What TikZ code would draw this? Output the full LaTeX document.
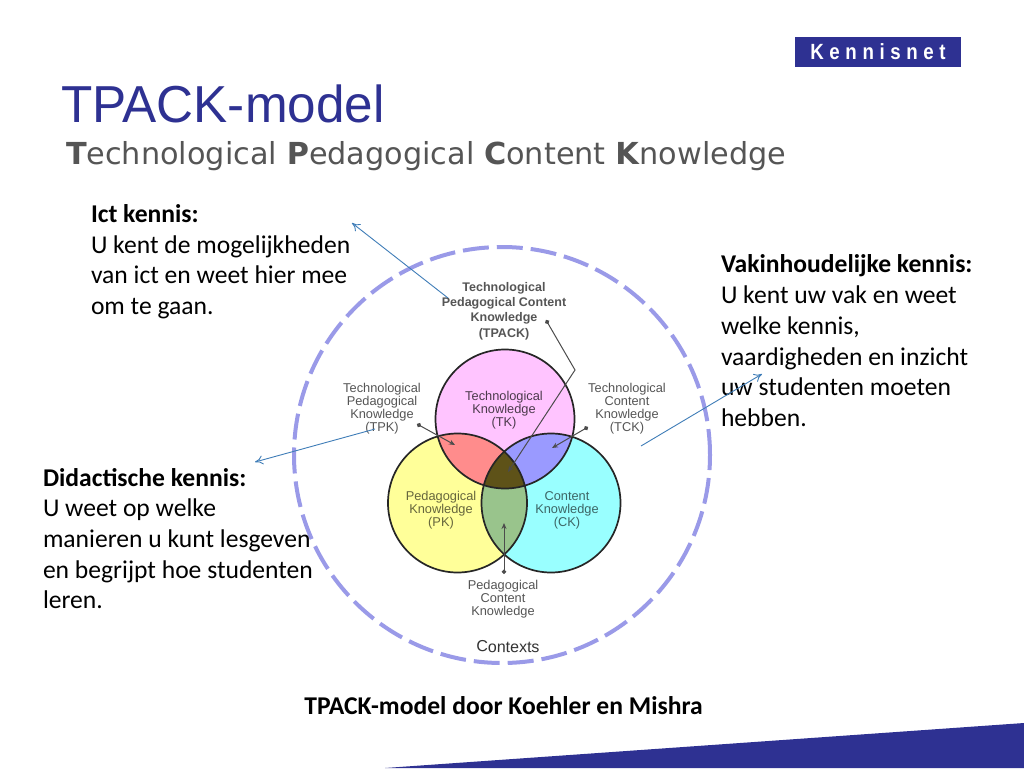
\documentclass[tikz,border=0pt]{standalone}
\usepackage{fontspec}
\setmainfont{Carlito}
\newfontfamily\titlefont{Liberation Sans}
\newfontfamily\subfont{DejaVu Sans}
\newfontfamily\logofont[LetterSpace=30]{Liberation Sans}
\usetikzlibrary{shapes,arrows.meta}
\definecolor{kblue}{HTML}{2E3192}
\definecolor{dashblue}{HTML}{9A9AE8}
\definecolor{linkblue}{HTML}{3F7DB8}
\definecolor{labelgray}{HTML}{555555}
\definecolor{tkpink}{HTML}{FFC4FF}
\definecolor{pkyellow}{HTML}{FFFF99}
\definecolor{ckcyan}{HTML}{99FFFF}
\definecolor{tpkred}{HTML}{FF8C8C}
\definecolor{tckblue}{HTML}{9A9AFF}
\definecolor{pckgreen}{HTML}{99C48C}
\definecolor{tpackolive}{HTML}{5E5218}

\begin{document}
\begin{tikzpicture}[x=1pt,y=-1pt]
    \tikzstyle{every node}=[inner sep=0pt,outer sep=0pt]
    \tikzstyle{venn}=[circle,minimum size=139pt]
    \tikzstyle{vennlabel}=[align=center,font=\titlefont\fontsize{12.8}{12.9}\selectfont,text=labelgray]
    \tikzstyle{bodytext}=[anchor=north west,align=left,font=\fontsize{25.6}{30.7}\selectfont]
    \tikzstyle{callout}=[draw=black!70,line width=1pt,{Circle[length=4.5pt]}-{Stealth[length=6pt,width=5pt]}]
    \tikzstyle{bluelink}=[draw=linkblue,line width=0.9pt,-{To[length=8pt,width=9pt]}]
    \path[fill=white,use as bounding box] (0,0) rectangle (1024,768);
    % header and footer
    \node[fill=kblue,minimum width=166pt,minimum height=30pt] (logo) at (878,52)
      {\scalebox{0.85}[1]{\logofont\bfseries\fontsize{22}{22}\selectfont\textcolor{white}{Kennisnet}}};
    \node[anchor=west,text=kblue,font=\titlefont\fontsize{52}{52}\selectfont,xscale=0.985] (title) at (61,104) {TPACK-model};
    \node[anchor=west,text=labelgray,font=\subfont\fontsize{30.3}{30.3}\selectfont] (subtitle) at (66,156)
      {\textbf{T}echnological \textbf{P}edagogical \textbf{C}ontent \textbf{K}nowledge};
    \fill[kblue] (385,768) -- (1024,723) -- (1024,768) -- cycle;
    % the model
    \node[circle,draw=dashblue,line width=4pt,dash pattern=on 26pt off 8pt,minimum size=416pt] (contexts) at (502,455) {};
    \node[venn,fill=tkpink] (tk) at (505,419) {};
    \node[venn,fill=pkyellow] (pk) at (457.5,503) {};
    \node[venn,fill=ckcyan] (ck) at (551,503) {};
    \begin{scope}
      \clip (tk.center) circle (69.5pt);
      \fill[tpkred] (pk.center) circle (69.5pt);
      \fill[tckblue] (ck.center) circle (69.5pt);
    \end{scope}
    \begin{scope}
      \clip (pk.center) circle (69.5pt);
      \fill[pckgreen] (ck.center) circle (69.5pt);
      \clip (ck.center) circle (69.5pt);
      \fill[tpackolive] (tk.center) circle (69.5pt);
    \end{scope}
    \foreach \c in {tk,pk,ck}
      \draw[line width=1.7pt,black!85] (\c.center) circle (69.5pt);
    % labels
    \node[vennlabel,font=\titlefont\bfseries\fontsize{12.5}{15.3}\selectfont] (tpacklabel) at (504,311)
      {Technological\\Pedagogical Content\\Knowledge\\(TPACK)};
    \node[vennlabel] (tpklabel) at (382,409) {Technological\\Pedagogical\\Knowledge\\(TPK)};
    \node[vennlabel] (tcklabel) at (627,409) {Technological\\Content\\Knowledge\\(TCK)};
    \node[vennlabel,text=black!40!tkpink!50!black] (tklabel) at (504,410) {Technological\\Knowledge\\(TK)};
    \node[vennlabel,text=pkyellow!40!black] (pklabel) at (441,510) {Pedagogical\\Knowledge\\(PK)};
    \node[vennlabel,text=ckcyan!40!black] (cklabel) at (567,510) {Content\\Knowledge\\(CK)};
    \node[vennlabel] (pcklabel) at (503,599) {Pedagogical\\Content\\Knowledge};
    \node[vennlabel,font=\titlefont\fontsize{16}{16}\selectfont,text=black!80,rotate=-1] (contextslabel) at (508,647) {Contexts};
    \coordinate (tpackdot) at (546,320);
    \coordinate (tpackbend) at (575,370);
    \coordinate (tpacktip) at (508,472);
    \coordinate (tpkdot) at (417,424);
    \coordinate (tpktip) at (455,445);
    \coordinate (tckdot) at (588,427);
    \coordinate (tcktip) at (552,448);
    \coordinate (pckdot) at (504,574);
    \coordinate (pcktip) at (504,523);
    \draw[callout] (tpackdot) -- (tpackbend) -- (tpacktip);
    \draw[callout] (tpkdot) -- (tpktip);
    \draw[callout] (tckdot) -- (tcktip);
    \draw[callout] (pckdot) -- (pcktip);
    % texts
    \node[bodytext] (ict) at (91,204.5) {\textbf{Ict kennis:}\\U kent de mogelijkheden\\van ict en weet hier mee\\om te gaan.};
    \node[bodytext] (vak) at (721,255) {\textbf{Vakinhoudelijke kennis:}\\U kent uw vak en weet\\welke kennis,\\vaardigheden en inzicht\\uw studenten moeten\\hebben.};
    \node[bodytext] (didactiek) at (43,468) {\textbf{Didactische kennis:}\\U weet op welke\\manieren u kunt lesgeven\\en begrijpt hoe studenten\\leren.};
    \node[anchor=center,font=\bfseries\fontsize{25.6}{25.6}\selectfont] (caption) at (503.5,706) {TPACK-model door Koehler en Mishra};
    % blue arrows
    \coordinate (ictstart) at (448,298);
    \coordinate (ictend) at (352,223);
    \coordinate (didstart) at (375,429);
    \coordinate (didend) at (255,462);
    \coordinate (vakstart) at (641,446);
    \coordinate (vakend) at (762,374);
    \draw[bluelink] (ictstart) -- (ictend);
    \draw[bluelink] (didstart) -- (didend);
    \draw[bluelink] (vakstart) -- (vakend);
\end{tikzpicture}
\end{document}
